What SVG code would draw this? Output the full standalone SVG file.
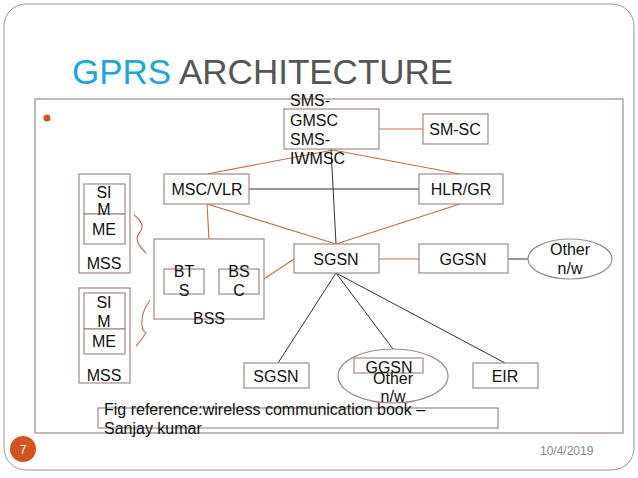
<svg xmlns="http://www.w3.org/2000/svg" width="638" height="478" viewBox="0 0 638 478">
<style>
.b{fill:#fff;stroke:#a08a87;stroke-width:1.2}
.t{font-family:"Liberation Sans",Arial,sans-serif;font-size:16px;fill:#111}
.m{text-anchor:middle}
.br{stroke:#c0704a;stroke-width:1.1;fill:none}
.bk{stroke:#333;stroke-width:1;fill:none}
</style>
<rect x="4" y="4" width="630" height="466" rx="22" fill="#fff" stroke="#999" stroke-width="1"/>
<text x="72" y="84" font-family="Liberation Sans,Arial,sans-serif" font-size="35" fill="#1ba6de">GPRS <tspan fill="#555">ARCHITECTURE</tspan></text>
<rect x="35" y="99" width="588" height="334" fill="none" stroke="#a08a87" stroke-width="1.2"/>
<circle cx="47" cy="118" r="3.5" fill="#d4541e"/>
<g id="connectors">
<line class="br" x1="379" y1="129" x2="423" y2="129"/>
<line class="br" x1="207" y1="174" x2="333" y2="150"/>
<line class="br" x1="333" y1="150" x2="460" y2="174"/>
<line class="bk" x1="249" y1="189" x2="419" y2="189"/>
<line class="bk" x1="331" y1="149" x2="336" y2="244"/>
<line class="br" x1="207" y1="204" x2="336" y2="244"/>
<line class="br" x1="460" y1="204" x2="336" y2="244"/>
<line class="br" x1="207" y1="204" x2="209" y2="239"/>
<line class="br" x1="264" y1="279" x2="294" y2="259"/>
<line class="br" x1="204" y1="281" x2="219" y2="281"/>
<line class="br" x1="379" y1="259" x2="419" y2="259"/>
<line class="bk" x1="508" y1="259" x2="528" y2="259" stroke="#666"/>
<line class="bk" x1="336" y1="273" x2="278" y2="363"/>
<line class="bk" x1="336" y1="273" x2="393" y2="349"/>
<line class="bk" x1="336" y1="273" x2="505" y2="363"/>
<path class="br" d="M134 215 Q146 224 140 232 Q132 240 146 253"/>
<path class="br" d="M150 300 Q142 312 142 320 Q141 330 146 333 Q140 342 136 346"/>
</g>
<g id="mss1"><rect class="b" x="79" y="174" width="51" height="99"/><rect class="b" x="84" y="184" width="41" height="30"/><rect class="b" x="84" y="214" width="41" height="30"/>
<text class="t m" x="104" y="198">SI</text><text class="t m" x="104" y="215">M</text><text class="t m" x="104" y="235">ME</text><text class="t m" x="104" y="269">MSS</text></g>
<g id="mss2"><rect class="b" x="79" y="288" width="51" height="95"/><rect class="b" x="84" y="293" width="41" height="36"/><rect class="b" x="84" y="329" width="41" height="25"/>
<text class="t m" x="104" y="308">SI</text><text class="t m" x="104" y="327">M</text><text class="t m" x="104" y="347">ME</text><text class="t m" x="104" y="381">MSS</text></g>
<g id="smsgmsc"><rect class="b" x="284" y="109" width="95" height="40"/>
<text class="t" x="290" y="106">SMS-</text><text class="t" x="290" y="126">GMSC</text><text class="t" x="290" y="145">SMS-</text><text class="t" x="290" y="164">IWMSC</text></g>
<g id="smsc"><rect class="b" x="423" y="114" width="65" height="30"/><text class="t m" x="455" y="135">SM-SC</text></g>
<g id="mscvlr"><rect class="b" x="164" y="174" width="85" height="30"/><text class="t m" x="207" y="195">MSC/VLR</text></g>
<g id="hlr"><rect class="b" x="419" y="174" width="84" height="30"/><text class="t m" x="461" y="195">HLR/GR</text></g>
<g id="bss"><rect class="b" x="154" y="239" width="110" height="80"/>
<rect class="b" x="164" y="269" width="40" height="25"/><rect class="b" x="219" y="269" width="40" height="25"/>
<text class="t m" x="184" y="277">BT</text><text class="t m" x="184" y="296">S</text>
<text class="t m" x="239" y="277">BS</text><text class="t m" x="239" y="296">C</text>
<text class="t m" x="209" y="324">BSS</text></g>
<g id="sgsn"><rect class="b" x="294" y="244" width="85" height="29"/><text class="t m" x="336" y="265">SGSN</text></g>
<g id="ggsn"><rect class="b" x="419" y="244" width="89" height="29"/><text class="t m" x="463" y="265">GGSN</text></g>
<g id="othernw"><ellipse class="b" cx="570" cy="259" rx="42" ry="20"/><text class="t m" x="570" y="255">Other</text><text class="t m" x="570" y="274">n/w</text></g>
<g id="sgsn2"><rect class="b" x="244" y="363" width="65" height="25"/><text class="t m" x="276" y="382">SGSN</text></g>
<g id="other2"><ellipse class="b" cx="393" cy="376" rx="55" ry="27"/><rect class="b" x="354" y="358" width="69" height="15"/>
<text class="t m" x="393" y="384">Other</text><text class="t m" x="389" y="373">GGSN</text><text class="t m" x="393" y="402">n/w</text></g>
<g id="eir"><rect class="b" x="473" y="363" width="65" height="25"/><text class="t m" x="505" y="382">EIR</text></g>
<g id="caption"><rect class="b" x="98" y="408" width="400" height="20" fill="none"/>
<text class="t" x="104" y="415">Fig reference:wireless communication book –</text><text class="t" x="104" y="434">Sanjay  kumar</text></g>
<circle cx="23" cy="449" r="13" fill="#d4541e"/>
<text x="23" y="454" font-family="Liberation Sans,Arial,sans-serif" font-size="12" fill="#fff" text-anchor="middle">7</text>
<text x="540" y="455" font-family="Liberation Sans,Arial,sans-serif" font-size="12" fill="#888">10/4/2019</text>
</svg>
